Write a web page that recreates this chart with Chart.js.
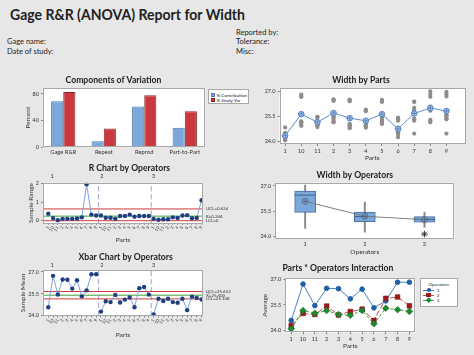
<!DOCTYPE html>
<html><head><meta charset="utf-8">
<script src="https://cdn.jsdelivr.net/npm/chart.js@4.4.1/dist/chart.umd.min.js"></script>
<style>
html,body{margin:0;padding:0;}
body{width:474px;height:355px;background:#e7e7e7;position:relative;overflow:hidden;font-family:Lato,'Open Sans',sans-serif;color:#222;}
.abs{position:absolute;white-space:nowrap;}
canvas{position:absolute;}
#title{left:10px;top:6px;font-weight:700;font-size:16px;line-height:1;transform-origin:0 0;}
.info{font-size:7.5px;line-height:1;}
.lg{position:absolute;background:#fff;border:1px solid #a8a8a8;box-sizing:border-box;font-size:4.6px;line-height:1;}
.lg .it{position:absolute;white-space:nowrap;}
.sw{position:absolute;box-sizing:border-box;}
</style></head><body>
<div id="title" class="abs">Gage R&amp;R (ANOVA) Report for Width</div>
<div class="abs info" style="left:7px;top:38px">Gage name:</div>
<div class="abs info" style="left:7px;top:48px">Date of study:</div>
<div class="abs info" style="left:236px;top:29px">Reported by:</div>
<div class="abs info" style="left:236px;top:38px">Tolerance:</div>
<div class="abs info" style="left:236px;top:48px">Misc:</div>

<div class="lg" style="left:208px;top:88.5px;width:41px;height:15px;">
  <div class="sw" style="left:2px;top:3px;width:4px;height:4px;background:#7ba7db;border:0.6px solid #4f79b0"></div>
  <div class="it" style="left:7.5px;top:3px">% Contribution</div>
  <div class="sw" style="left:2px;top:8.5px;width:4px;height:4px;background:#c8383c;border:0.6px solid #8e2326"></div>
  <div class="it" style="left:7.5px;top:8.5px">% Study Var</div>
</div>

<div class="lg" style="left:419.7px;top:278.3px;width:38px;height:28.5px;">
  <div class="it" style="left:0;width:36px;text-align:center;top:3px">Operators</div>
  <div class="sw" style="left:2.5px;top:10.5px;width:11px;height:1px;background:#4d7fc4"></div>
  <div class="sw" style="left:6px;top:9px;width:4px;height:4px;border-radius:50%;background:#1f5fa6"></div>
  <div class="it" style="left:16px;top:9px">1</div>
  <div class="sw" style="left:2.5px;top:15.5px;width:11px;height:1px;background:#c0504d"></div>
  <div class="sw" style="left:5.8px;top:13.8px;width:4.4px;height:4.4px;background:#a0191e"></div>
  <div class="it" style="left:16px;top:14px">2</div>
  <div class="sw" style="left:2.5px;top:20.5px;width:11px;height:1px;background:#3a9a48"></div>
  <div class="sw" style="left:6.2px;top:19.2px;width:3.6px;height:3.6px;background:#1c8a2e;transform:rotate(45deg)"></div>
  <div class="it" style="left:16px;top:19px">3</div>
</div>

<script>
// ---------------- DATA ----------------
const components = ['Gage R&R', 'Repeat', 'Reprod', 'Part-to-Part'];
const pctContribution = [69, 8.6, 61, 29];
const pctStudyVar = [83, 28, 78, 54];

const partOrder = ['1', '10', '11', '2', '3', '4', '5', '6', '7', '8', '9'];
const operators = ['1', '2', '3'];

// Width by Parts: part means and all observations (3 operators x 3 trials)
const partMeans = [24.32, 25.62, 25.14, 25.69, 25.38, 25.22, 25.62, 24.73, 25.66, 25.99, 25.81];
const trialsByPart = [
  [24.82, 24.5, 24.42, 24.42, 24.28, 24.14, 24.14, 24.09, 24.04],
  [26.8, 26.7, 26.66, 25.08, 24.98, 24.92, 25.18, 25.16, 25.13],
  [25.46, 25.45, 25.43, 25.0, 24.95, 24.84, 25.04, 25.0, 24.96],
  [26.52, 26.47, 26.42, 25.5, 25.42, 25.34, 25.2, 25.16, 25.12],
  [26.5, 26.45, 26.4, 25.02, 24.9, 24.77, 25.02, 24.93, 24.84],
  [25.9, 25.85, 25.8, 25.22, 25.1, 24.97, 24.95, 24.88, 24.8],
  [26.48, 26.42, 26.36, 25.4, 25.24, 25.07, 25.3, 25.16, 25.02],
  [25.41, 25.32, 25.23, 24.69, 24.58, 24.47, 24.53, 24.38, 24.23],
  [26.38, 26.36, 24.45, 26.0, 25.88, 25.75, 25.36, 25.3, 25.23],
  [27.0, 26.83, 26.67, 26.08, 25.96, 25.83, 25.28, 25.21, 25.13],
  [26.97, 26.83, 26.69, 25.56, 25.44, 25.31, 25.55, 25.33, 24.45]
];

// Operator averages per part (Xbar chart and interaction plot)
const avgOp1 = [24.58, 26.72, 25.45, 26.47, 26.45, 25.85, 26.42, 25.32, 25.73, 26.83, 26.83];
const avgOp2 = [24.28, 24.99, 24.93, 25.42, 24.90, 25.10, 25.24, 24.58, 25.88, 25.96, 25.44];
const avgOp3 = [24.09, 25.16, 25.00, 25.16, 24.93, 24.88, 25.16, 24.38, 25.30, 25.21, 25.11];

// Ranges per operator per part (R chart)
const rangeOp1 = [0.38, 0.14, 0.03, 0.10, 0.10, 0.10, 0.12, 0.18, 1.97, 0.33, 0.28];
const rangeOp2 = [0.28, 0.16, 0.16, 0.10, 0.25, 0.25, 0.33, 0.22, 0.25, 0.25, 0.25];
const rangeOp3 = [0.10, 0.05, 0.08, 0.08, 0.18, 0.15, 0.28, 0.30, 0.13, 0.15, 1.10];

const rLimits = [0.634, 0.246, 0];          // UCL, R-bar, LCL
const rLimitLabels = ['UCL=0.634', 'R\u0304=0.246', 'LCL=0'];
const xbarLimits = [25.652, 25.400, 25.148]; // UCL, X-double-bar, LCL
const xbarLimitLabels = ['UCL=25.652', 'X\u033F=25.400', 'LCL=25.148'];

// Width by Operators box plot
const boxQ1 = [25.43, 24.88, 24.85];
const boxQ3 = [26.69, 25.45, 25.18];
const boxMedian = [26.45, 25.18, 25.02];
const whiskerLow = [24.49, 24.26, 24.55];
const whiskerHigh = [27.04, 26.04, 25.45];
const operatorMeans = [26.08, 25.2, 25.0];
const outliers = [null, null, 24.15];

const widthTicks = [24.0, 25.5, 27.0];
const percentTicks = [0, 40, 80];

// ---------------- HELPERS ----------------
Chart.defaults.font.family = "Lato, 'Open Sans', sans-serif";
Chart.defaults.color = '#333';

const mctx = document.createElement('canvas').getContext('2d');
function measure(font, text) { mctx.font = font; return mctx.measureText(text).width; }
const titleFamily = "Lato, 'Open Sans', sans-serif";
// size chosen so "Components of Variation" is ~96px wide, as in the reference
const titleSize = Math.min(10.5, 10 * 96 / measure('bold 10px ' + titleFamily, 'Components of Variation'));

const plotBg = {
  id: 'plotBg',
  beforeDraw(c) { const a = c.chartArea, x = c.ctx; x.save(); x.fillStyle = '#fff'; x.fillRect(a.left, a.top, a.right - a.left, a.bottom - a.top); x.restore(); },
  afterDraw(c) { const a = c.chartArea, x = c.ctx; x.save(); x.strokeStyle = '#a8a8a8'; x.lineWidth = 1; x.strokeRect(Math.round(a.left) + 0.5, Math.round(a.top) + 0.5, Math.round(a.right - a.left) - 1, Math.round(a.bottom - a.top) - 1); x.restore(); }
};
function mk(left, top, w, h, cfg) {
  const c = document.createElement('canvas');
  c.width = w; c.height = h; c.style.left = left + 'px'; c.style.top = top + 'px';
  c.style.width = w + 'px'; c.style.height = h + 'px';
  document.body.appendChild(c);
  cfg.options = Object.assign({ responsive: false, animation: false, devicePixelRatio: 1 }, cfg.options);
  cfg.options.plugins = Object.assign({ legend: { display: false }, tooltip: { enabled: false } }, cfg.options.plugins);
  cfg.plugins = [plotBg];
  return new Chart(c, cfg);
}
const fixW = w => s => { s.width = w; };
const fixH = h => s => { s.height = h; };
const setTicks = vals => s => { s.ticks = vals.map(v => ({ value: v })); };
const titleOpt = (text, center, end) => {
  const lh = titleSize * 1.2;
  const pt = Math.max(0, center - lh / 2);
  const pb = Math.max(0, end - pt - lh);
  return { display: true, text, color: '#1e1e1e', font: { family: titleFamily, size: titleSize, weight: 'bold' }, padding: { top: pt, bottom: pb } };
};
const tickGrid = { display: true, drawOnChartArea: false, drawTicks: true, tickLength: 2, color: '#888' };
const noGrid = { display: false, drawTicks: false, tickLength: 0 };
const noBorder = { display: false };
const fmt1 = v => Number(v).toFixed(1);

// ---------------- 1. Components of Variation ----------------
mk(0, 70, 237, 92, {
  type: 'bar',
  data: { labels: components, datasets: [
    { label: '% Contribution', data: pctContribution, backgroundColor: '#7ba7db', borderColor: '#4f79b0', borderWidth: 1 },
    { label: '% Study Var', data: pctStudyVar, backgroundColor: '#c8383c', borderColor: '#8e2326', borderWidth: 1 }
  ] },
  options: {
    layout: { padding: { left: 22, right: 32, top: 0, bottom: 0 } },
    datasets: { bar: { barPercentage: 1, categoryPercentage: 0.6 } },
    plugins: { title: titleOpt('Components of Variation', 10.7, 18.3) },
    scales: {
      x: { grid: noGrid, border: noBorder, ticks: { font: { size: 5.8 }, padding: 1.5 }, afterFit: fixH(15) },
      y: { min: 0, max: 88.6, afterBuildTicks: setTicks(percentTicks), grid: tickGrid, border: noBorder,
           ticks: { font: { size: 5.5 }, padding: 2 }, title: { display: true, text: 'Percent', font: { size: 6.5 }, color: '#333', padding: { top: 2, bottom: 0 } }, afterFit: fixW(21) }
    }
  }
});

// ---------------- 2. Width by Parts ----------------
const partPoints = [];
trialsByPart.forEach((vals, i) => vals.forEach(v => partPoints.push({ x: i, y: v })));
const partMeanPts = partMeans.map((v, i) => ({ x: i, y: v }));
mk(237, 70, 237, 95, {
  type: 'scatter',
  data: { datasets: [
    { data: partMeanPts, showLine: true, borderColor: '#5b8fcf', borderWidth: 1, pointStyle: 'circle', pointRadius: 2.8, pointBackgroundColor: '#a9c6ec', pointBorderColor: '#4a78b8', pointBorderWidth: 0.9, order: 2 },
    { data: partMeanPts, showLine: false, pointStyle: 'cross', pointRadius: 2.2, borderColor: '#3f6fae', pointBorderWidth: 0.7, order: 1 },
    { data: partPoints, showLine: false, pointStyle: 'circle', pointRadius: 2.1, pointBackgroundColor: '#8d8d8d', pointBorderColor: '#8d8d8d', pointBorderWidth: 0, order: 3 }
  ] },
  options: {
    layout: { padding: { left: 20, right: 9, top: 0, bottom: 0 } },
    plugins: { title: titleOpt('Width by Parts', 10, 18) },
    scales: {
      x: { type: 'linear', min: -0.35, max: 11.15, afterBuildTicks: setTicks(partOrder.map((p, i) => i)), grid: tickGrid, border: noBorder,
           ticks: { callback: v => partOrder[v], font: { size: 5.5 }, padding: 1.5, autoSkip: false, maxRotation: 0 },
           title: { display: true, text: 'Parts', font: { size: 6.5 }, color: '#333', padding: { top: 0, bottom: 3.1 } }, afterFit: fixH(21) },
      y: { min: 23.82, max: 27.2, afterBuildTicks: setTicks(widthTicks), grid: tickGrid, border: noBorder,
           ticks: { callback: fmt1, font: { size: 5.5 }, padding: 2 }, afterFit: fixW(22.5) }
    }
  }
});

// ---------------- shared for R / Xbar charts ----------------
const xMin = -1.1, xMax = 32.3;
const seqLabel = v => partOrder[v % partOrder.length];
const allIdx = []; for (let i = 0; i < partOrder.length * operators.length; i++) allIdx.push(i);
const opStarts = [0.8, 11.2, 22];
const opBreaks = [10.5, 21.5];
function ctlDatasets(ops, limits, yMin, yMax) {
  const ds = [];
  opBreaks.forEach(b => ds.push({ data: [{ x: b, y: yMin }, { x: b, y: yMax }], showLine: true, borderColor: '#a3a3d6', borderWidth: 1, borderDash: [5, 3], pointRadius: 0, order: 6 }));
  const cols = ['#d03a3a', '#3aa33a', '#d03a3a'];
  limits.forEach((l, k) => ds.push({ data: [{ x: xMin, y: l }, { x: xMax, y: l }], showLine: true, borderColor: cols[k], borderWidth: 1, pointRadius: 0, order: 5 }));
  ops.forEach((arr, k) => ds.push({ data: arr.map((v, i) => ({ x: k * partOrder.length + i, y: v })), showLine: true, borderColor: '#79a5dc', borderWidth: 1, pointStyle: 'circle', pointRadius: 2.2, pointBackgroundColor: '#1f3f80', pointBorderColor: '#1f3f80', pointBorderWidth: 0, order: 1 }));
  return ds;
}
function ctlScales(yMin, yMax, yTicks, yFmt, yTitle, yW, limits, limitLabels, bottomH, partsPb, topH, topPad) {
  return {
    x: { type: 'linear', min: xMin, max: xMax, afterBuildTicks: setTicks(allIdx), grid: { display: true, drawOnChartArea: false, drawTicks: true, tickLength: 1.5, color: '#888' }, border: noBorder,
         ticks: { callback: seqLabel, font: { size: 4.3 }, padding: 0.5, autoSkip: false, minRotation: 55, maxRotation: 55 },
         title: { display: true, text: 'Parts', font: { size: 6.5 }, color: '#333', padding: { top: 0, bottom: partsPb } }, afterFit: fixH(bottomH) },
    x2: { type: 'linear', position: 'top', min: xMin, max: xMax, afterBuildTicks: setTicks(opStarts), grid: noGrid, border: noBorder,
          ticks: { callback: (v, i) => operators[i], font: { size: 5.5 }, padding: topPad, autoSkip: false, maxRotation: 0 }, afterFit: fixH(topH) },
    y: { min: yMin, max: yMax, afterBuildTicks: setTicks(yTicks), grid: tickGrid, border: noBorder,
         ticks: { callback: yFmt, font: { size: 5.5 }, padding: 2 },
         title: { display: true, text: yTitle, font: { size: 6.5 }, color: '#333', padding: { top: 1, bottom: 0 } }, afterFit: fixW(yW) },
    y2: { position: 'right', min: yMin, max: yMax, afterBuildTicks: setTicks(limits), grid: noGrid, border: noBorder,
          ticks: { callback: (v, i) => limitLabels[i], font: { size: 4.4 }, color: '#333', padding: 3, autoSkip: false }, afterFit: fixW(30) }
  };
}

// ---------------- 3. R Chart by Operators ----------------
mk(0, 160, 237, 90, {
  type: 'scatter',
  data: { datasets: ctlDatasets([rangeOp1, rangeOp2, rangeOp3], rLimits, -0.14, 2.05) },
  options: {
    layout: { padding: { left: 25.8, right: 4, top: 0, bottom: 0 } },
    plugins: { title: titleOpt('R Chart by Operators', 8, 13.4) },
    scales: ctlScales(-0.14, 2.05, [0, 1, 2], v => String(v), 'Sample Range', 17.2, rLimits, rLimitLabels, 26.7, 6.1, 9.3, 3)
  }
});

// ---------------- 5. Xbar Chart by Operators ----------------
mk(0, 250, 237, 92, {
  type: 'scatter',
  data: { datasets: ctlDatasets([avgOp1, avgOp2, avgOp3], xbarLimits, 23.98, 27.12) },
  options: {
    layout: { padding: { left: 18.4, right: 4, top: 0, bottom: 0 } },
    plugins: { title: titleOpt('Xbar Chart by Operators', 7.5, 13) },
    scales: ctlScales(23.98, 27.12, widthTicks, fmt1, 'Sample Mean', 24.6, xbarLimits, xbarLimitLabels, 26, 3.1, 7, 1)
  }
});

// ---------------- 4. Width by Operators ----------------
mk(237, 165, 237, 92, {
  type: 'bar',
  data: { labels: operators, datasets: [
    { type: 'bar', data: whiskerLow.map((v, i) => [v, whiskerHigh[i]]), barThickness: 1.3, backgroundColor: '#8a8a8a', grouped: false, order: 6 },
    { type: 'bar', data: boxQ1.map((v, i) => [v, boxQ3[i]]), barThickness: 21, backgroundColor: '#7ba7db', borderColor: '#4d6f9c', borderWidth: 1, borderSkipped: false, grouped: false, order: 5 },
    { type: 'line', data: boxMedian, showLine: false, pointStyle: 'line', pointRadius: 10.5, borderColor: '#3f5f8f', pointBorderWidth: 1, order: 4 },
    { type: 'line', data: operatorMeans, borderColor: '#808080', borderWidth: 1, pointStyle: 'circle', pointRadius: 3, pointBackgroundColor: 'rgba(0,0,0,0)', pointBorderColor: '#4f5f77', pointBorderWidth: 0.8, order: 3 },
    { type: 'line', data: operatorMeans, showLine: false, pointStyle: 'cross', pointRadius: 2.3, borderColor: '#4f5f77', pointBorderWidth: 0.8, order: 2 },
    { type: 'line', data: outliers, showLine: false, pointStyle: 'star', pointRadius: 3.3, borderColor: '#333', pointBorderWidth: 1, order: 1 }
  ] },
  options: {
    layout: { padding: { left: 18.3, right: 19.7, top: 0, bottom: 0 } },
    plugins: { title: titleOpt('Width by Operators', 10, 17.7) },
    scales: {
      x: { grid: noGrid, border: noBorder, ticks: { font: { size: 5.5 }, padding: 2 },
           title: { display: true, text: 'Operators', font: { size: 6.5 }, color: '#333', padding: { top: 0, bottom: 1.4 } }, afterFit: fixH(18) },
      y: { min: 23.86, max: 27.18, afterBuildTicks: setTicks(widthTicks), grid: tickGrid, border: noBorder,
           ticks: { callback: fmt1, font: { size: 5.5 }, padding: 2 }, afterFit: fixW(20) }
    }
  }
});

// ---------------- 6. Parts * Operators Interaction ----------------
mk(237, 255, 237, 100, {
  type: 'line',
  data: { labels: partOrder, datasets: [
    { label: '1', data: avgOp1, borderColor: '#4d7fc4', borderWidth: 1, pointStyle: 'circle', pointRadius: 2.3, pointBackgroundColor: '#1f5fa6', pointBorderColor: '#1f5fa6', order: 3 },
    { label: '2', data: avgOp2, borderColor: '#c0504d', borderWidth: 1, borderDash: [6, 2], pointStyle: 'rect', pointRadius: 3.3, pointBackgroundColor: '#a0191e', pointBorderColor: '#7a1014', pointBorderWidth: 0.6, order: 2 },
    { label: '3', data: avgOp3, borderColor: '#3a9a48', borderWidth: 1, borderDash: [3, 2], pointStyle: 'rectRot', pointRadius: 3.3, pointBackgroundColor: '#1c8a2e', pointBorderColor: '#12661f', pointBorderWidth: 0.6, order: 1 }
  ] },
  options: {
    layout: { padding: { left: 23.4, right: 58.7, top: 0, bottom: 0 } },
    plugins: { title: titleOpt('Parts * Operators Interaction', 13, 23.3) },
    scales: {
      x: { offset: true, grid: tickGrid, border: noBorder, ticks: { font: { size: 5.5 }, padding: 1.5, autoSkip: false, maxRotation: 0 },
           title: { display: true, text: 'Parts', font: { size: 6.5 }, color: '#333', padding: { top: 0, bottom: 5.4 } }, afterFit: fixH(22.7) },
      y: { min: 23.88, max: 27.06, afterBuildTicks: setTicks(widthTicks), grid: tickGrid, border: noBorder,
           ticks: { callback: fmt1, font: { size: 5.5 }, padding: 2 },
           title: { display: true, text: 'Average', font: { size: 6.5 }, color: '#333', padding: { top: 1, bottom: 0 } }, afterFit: fixW(24.9) }
    }
  }
});

// fit main title width to reference
const t = document.getElementById('title');
const tw = t.getBoundingClientRect().width;
if (tw > 0) t.style.transform = 'scaleX(' + (235 / tw) + ')';
</script>
</body></html>
